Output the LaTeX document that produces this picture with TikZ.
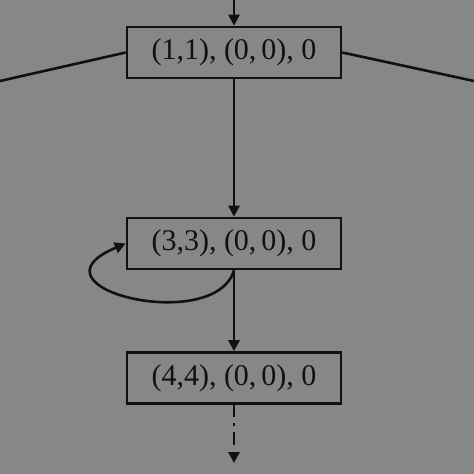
\documentclass[tikz,border=0pt]{standalone}
\usepackage{fontspec}
\setmainfont{Liberation Serif}
\usetikzlibrary{arrows.meta}
\definecolor{bg}{HTML}{878787}
\definecolor{ink}{HTML}{111111}
\begin{document}
\begin{tikzpicture}[x=1pt,y=-1pt,
  state/.style={draw=ink, line width=2.6pt, fill=bg, minimum width=214pt, minimum height=51pt, inner sep=0pt, font=\fontsize{30}{32}\selectfont, text=ink},
  conn/.style={draw=ink, line width=2.6pt},
  arr/.style={conn, -{Triangle[width=11pt,length=11pt]}}]
\fill[bg] (0,0) rectangle (474,474);
\useasboundingbox (0,0) rectangle (474,474);
\node[state] (s1) at (234,52.5) {(1,1), (0,\,0), 0};
\node[state] (s3) at (234,243.5) {(3,3), (0,\,0), 0};
\node[state] (s4) at (234,378) {(4,4), (0,\,0), 0};
\coordinate (top) at (234,0);
\coordinate (lft) at (0,81);
\coordinate (rgt) at (474,81);
\coordinate (bot) at (234,463);
\draw[arr] (top) -- (s1.north);
\draw[conn] (s1.west) -- (lft);
\draw[conn] (s1.east) -- (rgt);
\draw[arr] (s1.south) -- (s3.north);
\draw[arr] (s3.south) -- (s4.north);
\draw[arr] (s3.south) .. controls (215,335) and (20,288) .. (s3.west);
\draw[arr, dash pattern=on 12pt off 6pt on 3pt off 6pt on 13pt off 20pt] (s4.south) -- (bot);
\end{tikzpicture}
\end{document}
